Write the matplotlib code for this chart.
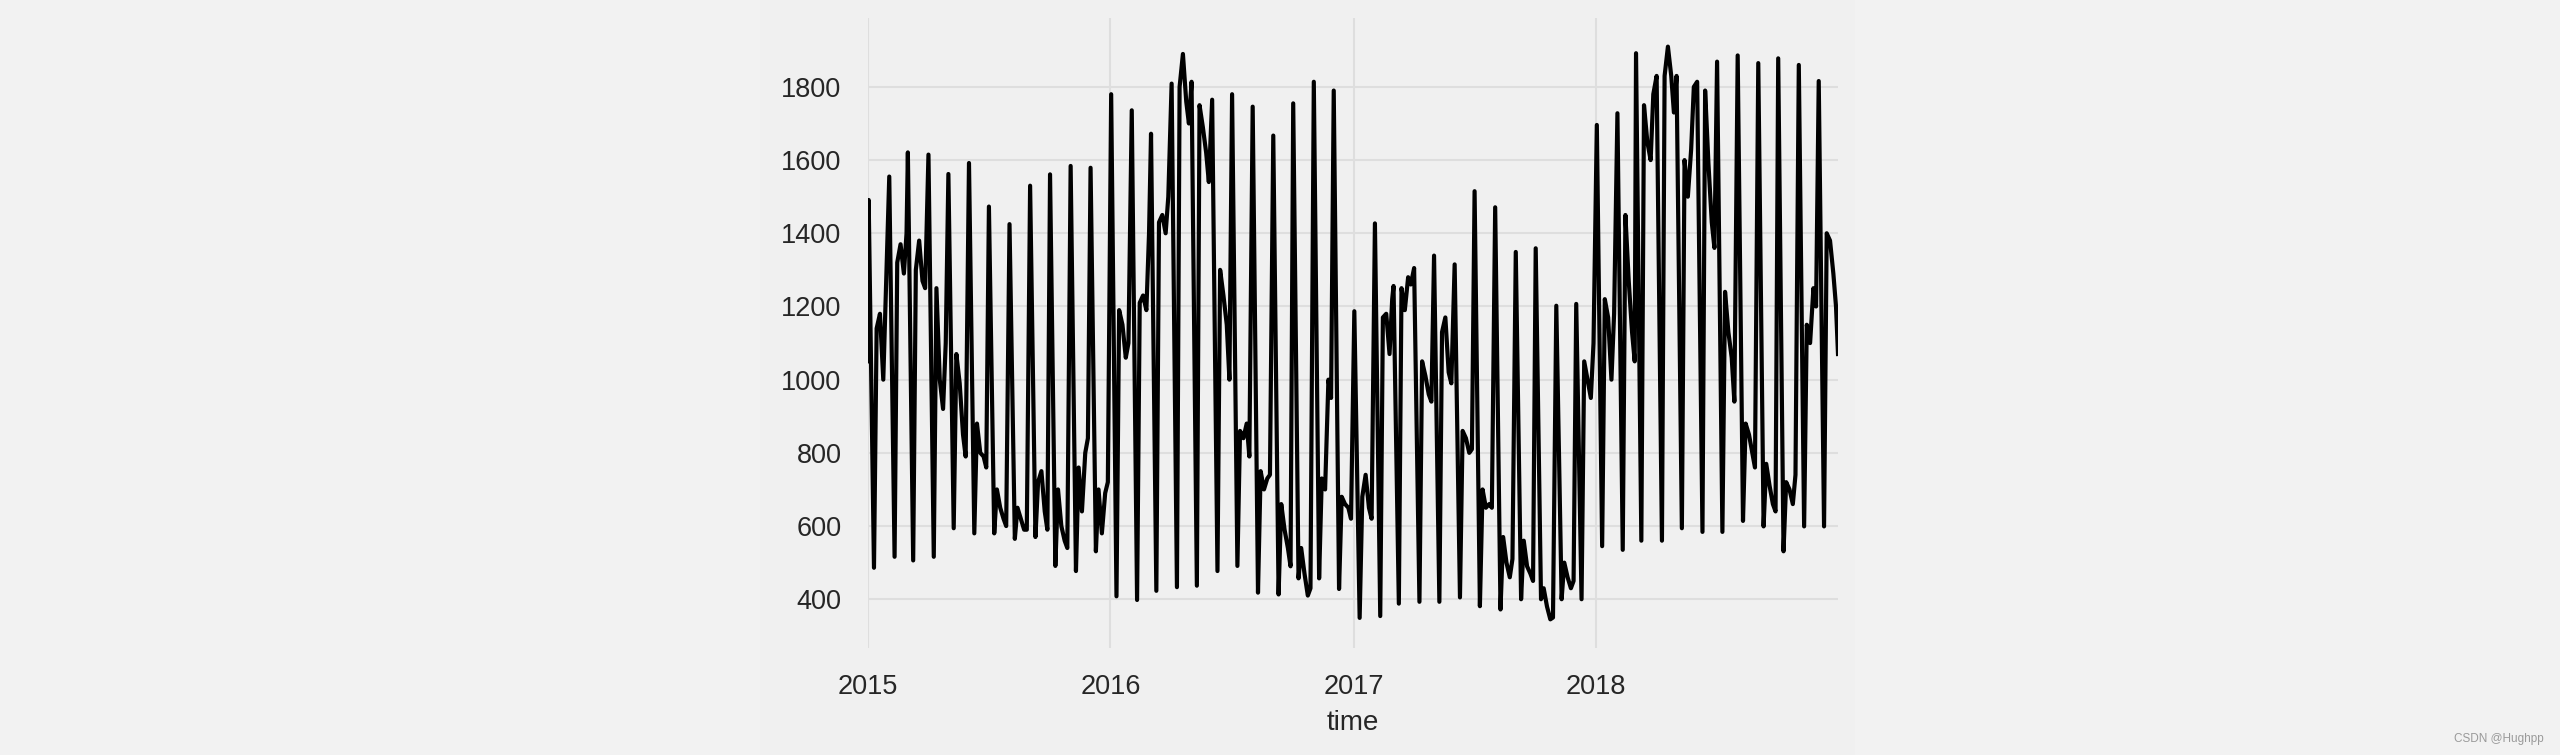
import matplotlib
matplotlib.use('Agg')
import matplotlib.pyplot as plt
import matplotlib.dates as mdates
import pandas as pd
from matplotlib.patches import Rectangle
from matplotlib.ticker import MultipleLocator

plt.rcParams['font.family'] = ['Liberation Sans', 'DejaVu Sans']

years = [2015, 2016, 2017, 2018]
curve_days = [14, 19, 24, 28]   # days of each month
spike_days = [2, 10]            # the early-month burst: high then low

start_value = 1050
end_value = 1070

# four readings per month (days 14, 19, 24, 28)
curve_2015 = [[1140, 1180, 1000, 1250], [1320, 1370, 1290, 1400], [1300, 1380, 1270, 1250],
              [1250, 1000, 920, 1100], [1070, 990, 850, 790], [880, 800, 790, 760],
              [700, 650, 620, 600], [650, 620, 590, 590], [720, 750, 640, 590],
              [700, 600, 560, 540], [760, 640, 800, 840], [700, 580, 690, 720]]
curve_2016 = [[1190, 1150, 1060, 1100], [1210, 1230, 1190, 1400], [1430, 1450, 1400, 1500],
              [1800, 1890, 1760, 1700], [1750, 1690, 1620, 1540], [1300, 1230, 1150, 1000],
              [860, 840, 880, 790], [750, 700, 730, 740], [660, 590, 540, 490],
              [540, 470, 410, 430], [730, 700, 1000, 950], [680, 660, 650, 620]]
curve_2017 = [[680, 740, 650, 620], [1170, 1180, 1070, 1220], [1250, 1190, 1280, 1260],
              [1050, 1010, 960, 940], [1130, 1170, 1020, 990], [860, 840, 800, 810],
              [700, 650, 660, 650], [570, 500, 460, 510], [560, 490, 470, 450],
              [430, 380, 345, 350], [500, 460, 430, 450], [1050, 1000, 950, 1100]]
curve_2018 = [[1220, 1170, 1000, 1180], [1450, 1270, 1130, 1050], [1750, 1650, 1600, 1780],
              [1830, 1910, 1830, 1730], [1600, 1500, 1630, 1800], [1790, 1590, 1430, 1360],
              [1240, 1130, 1060, 940], [880, 850, 800, 760], [770, 710, 660, 640],
              [720, 700, 660, 740], [1150, 1100, 1250, 1200], [1400, 1380, 1290, 1200]]

spike_high = [1491, 1555, 1621, 1615, 1562, 1592, 1473, 1425, 1530, 1561, 1584, 1579,
              1780, 1736, 1672, 1809, 1814, 1765, 1780, 1746, 1667, 1755, 1814, 1790,
              1187, 1427, 1256, 1305, 1339, 1315, 1515, 1471, 1349, 1359, 1202, 1207,
              1696, 1728, 1892, 1830, 1830, 1814, 1869, 1886, 1865, 1878, 1860, 1816]
spike_low = [486, 516, 506, 516, 594, 580, 580, 565, 570, 491, 477, 531,
             408, 398, 423, 433, 437, 477, 491, 418, 413, 457, 457, 428,
             349, 354, 388, 393, 393, 405, 381, 372, 400, 400, 400, 400,
             545, 535, 560, 560, 594, 584, 584, 614, 599, 531, 599, 599]

# build the plotted sequence in date order
dates = [pd.Timestamp(years[0], 1, 1)]
values = [start_value]
k = 0
for yr, curve in zip(years, [curve_2015, curve_2016, curve_2017, curve_2018]):
    for m in range(12):
        dates += [pd.Timestamp(yr, m + 1, spike_days[0]), pd.Timestamp(yr, m + 1, spike_days[1])]
        values += [spike_high[k], spike_low[k]]
        for d, v in zip(curve_days, curve[m]):
            dates.append(pd.Timestamp(yr, m + 1, d))
            values.append(v)
        k += 1
dates.append(pd.Timestamp(years[-1], 12, 31))
values.append(end_value)

W, H = 2560, 755
fig = plt.figure(figsize=(W / 100, H / 100), dpi=100, facecolor='#f2f2f2')
# inner panel (the original figure)
fig.patches.append(Rectangle((760 / W, 0), (1855 - 760) / W, 1, transform=fig.transFigure,
                             facecolor='#f0f0f0', edgecolor='none', zorder=-5))

ax = fig.add_axes([868 / W, 107 / H, 970 / W, 630 / H])
ax.set_zorder(2)
ax.set_facecolor('#f0f0f0')
ax.plot(dates, values, color='black', lw=3.0)

ax.set_xlim(dates[0], dates[-1])
ax.xaxis.set_major_locator(mdates.YearLocator())
ax.xaxis.set_major_formatter(mdates.DateFormatter('%Y'))
ax.yaxis.set_major_locator(MultipleLocator(200))

for s in ax.spines.values():
    s.set_visible(False)
ax.grid(True, color='#dedede', lw=1.5)
ax.set_axisbelow(True)
ax.tick_params(length=0, pad=19, labelsize=19.5, labelcolor='#262626')
ax.set_xlabel('time', fontsize=20, color='#262626', labelpad=7)

fig.text(2544 / W, 16 / H, 'CSDN @Hughpp', ha='right', va='center', fontsize=8.5, color='#9a9a9a')

fig.savefig('out.png', dpi=100, facecolor=fig.get_facecolor())
